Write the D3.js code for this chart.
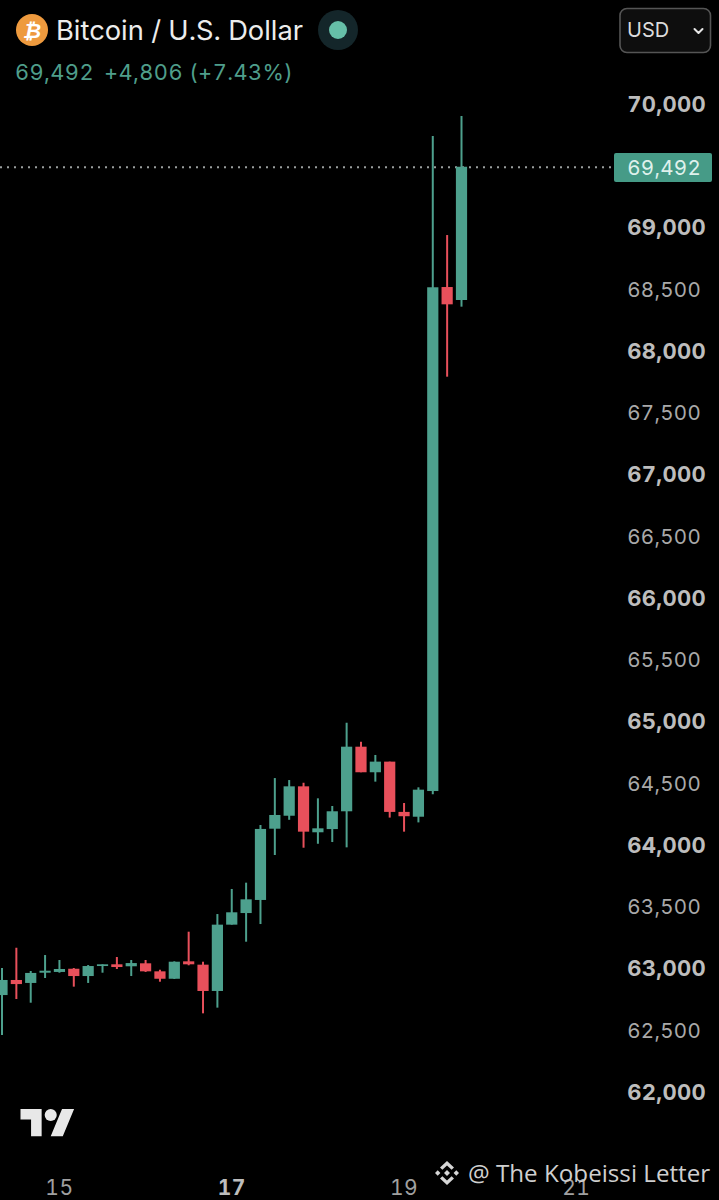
<!DOCTYPE html>
<html>
<head>
<meta charset="utf-8">
<script src="https://cdn.jsdelivr.net/npm/d3@7"></script>
<style>
html,body{margin:0;padding:0;background:#000;overflow:hidden}
svg{display:block}
text{font-family:Inter,Roboto,sans-serif;font-variant-numeric:tabular-nums}
</style>
</head>
<body>
<svg id="c" width="719" height="1200"></svg>
<script>
const opens  = [62785,62907,62883,62966,62972,62998,62939,63020,63034,63018,63042,62977,62917,63058,63031,62818,63355,63449,63555,64132,64237,64475,64103,64129,64273,64796,64589,64675,64268,64229,64437,68518,68413];
const closes = [62907,62874,62964,62982,62996,62939,63020,63034,63012,63044,62977,62917,63055,63034,62818,63355,63455,63560,64130,64243,64475,64108,64135,64273,64796,64589,64675,64268,64233,64448,68516,68378,69492];
const highs  = [63004,63168,62980,63109,63069,63004,63028,63034,63093,63069,63069,62990,63058,63298,63055,63441,63644,63695,64162,64542,64526,64504,64378,64316,64990,64836,64729,64675,64340,64467,69741,68939,69903];
const lows   = [62461,62753,62723,62923,62966,62853,62883,62966,62996,62939,62972,62893,62915,63026,62637,62683,63355,63217,63360,63919,64204,63978,64010,64024,63981,64589,64513,64222,64108,64183,64410,67792,68359];
const priceTicks = [70000,69000,68500,68000,67500,67000,66500,66000,65500,65000,64500,64000,63500,63000,62500,62000];
const dayTicks = [{i:4,label:"15"},{i:16,label:"17"},{i:28,label:"19"},{i:40,label:"21"}];
const lastPrice = 69492;
const titleText = "Bitcoin / U.S. Dollar";
const quoteText = ["69,492","+4,806 (+7.43%)"];
const watermark = "@ The Kobeissi Letter";

const UP="#4da08d", DOWN="#e8505b";
const svg=d3.select("#c");
svg.append("rect").attr("width",719).attr("height",1200).attr("fill","#000");

const y=d3.scaleLinear().domain([62000,70000]).range([1092,104]);
const x=d3.scaleLinear().domain([0,32]).range([2,461.5]);
const fmt=d3.format(",");

// last price dotted line
svg.append("line").attr("x1",0).attr("x2",612).attr("y1",y(lastPrice)+0.5).attr("y2",y(lastPrice)+0.5)
  .attr("stroke","#9a9f9e").attr("stroke-width",2).attr("stroke-dasharray","2 5");

// candles
const data=opens.map((o,i)=>({i,o,c:closes[i],h:highs[i],l:lows[i]}));
const g=svg.append("g");
g.selectAll("line").data(data).join("line")
  .attr("x1",d=>x(d.i)).attr("x2",d=>x(d.i))
  .attr("y1",d=>y(d.h)).attr("y2",d=>y(d.l))
  .attr("stroke",d=>d.c>=d.o?UP:DOWN).attr("stroke-width",2);
g.selectAll("rect").data(data).join("rect")
  .attr("x",d=>x(d.i)-5.6).attr("width",11.2)
  .attr("y",d=>y(Math.max(d.o,d.c)))
  .attr("height",d=>Math.max(1.6,Math.abs(y(d.o)-y(d.c))))
  .attr("fill",d=>d.c>=d.o?UP:DOWN);

// price axis labels
svg.append("g").selectAll("text").data(priceTicks).join("text")
  .attr("y",d=>y(d)).attr("dy","0.36em")
  .attr("x",d=>d%1000===0?706:701).attr("text-anchor","end")
  .attr("font-size",d=>d%1000===0?22:20.5)
  .attr("font-weight",d=>d%1000===0?700:400)
  .attr("letter-spacing",0.3)
  .attr("fill",d=>d%1000===0?"#bdbdbd":"#a9a9a9")
  .text(d=>fmt(d));

// last price badge
svg.append("rect").attr("x",614).attr("y",153).attr("width",98).attr("height",29).attr("rx",2).attr("fill","#469b87");
svg.append("text").attr("x",701).attr("y",167.5).attr("dy","0.36em").attr("text-anchor","end")
  .attr("font-size",20.5).attr("letter-spacing",0.3).attr("fill","#dff1ec").text(fmt(lastPrice));

// time labels
svg.append("g").selectAll("text").data(dayTicks).join("text")
  .attr("x",d=>x(d.i)).attr("y",1187).attr("dy","0.36em").attr("text-anchor","middle")
  .attr("font-size",21).attr("font-weight",d=>d.label==="17"?700:400).attr("letter-spacing",0.5)
  .attr("fill",d=>d.label==="17"?"#bdbdbd":"#a0a0a0").text(d=>d.label);

// header
svg.append("circle").attr("cx",32).attr("cy",30).attr("r",16).attr("fill","#ee9a3e");
svg.append("text").attr("x",32).attr("y",30.5).attr("dy","0.36em").attr("text-anchor","middle")
  .attr("font-size",21).attr("font-weight",700).attr("font-style","italic").attr("fill","#fff")
  .style("font-family","'DejaVu Sans',sans-serif").text("₿");
svg.append("text").attr("x",56).attr("y",30).attr("dy","0.36em").attr("font-size",27.3).attr("fill","#ececec").text(titleText);
svg.append("text").attr("x",15).attr("y",72).attr("dy","0.36em").attr("font-size",21.8).attr("letter-spacing",0.4).attr("fill","#4f9e8b").text(quoteText[0]);
svg.append("text").attr("x",104).attr("y",72).attr("dy","0.36em").attr("font-size",21.8).attr("letter-spacing",0.4).attr("fill","#4f9e8b").text(quoteText[1]);
svg.append("circle").attr("cx",338).attr("cy",30).attr("r",20).attr("fill","#14262a");
svg.append("circle").attr("cx",338).attr("cy",30).attr("r",9).attr("fill","#66bfa8");

// currency button
svg.append("rect").attr("x",620).attr("y",8.5).attr("width",90.5).attr("height",44).attr("rx",7)
  .attr("fill","#0e0e0e").attr("stroke","#555").attr("stroke-width",1.6);
svg.append("text").attr("x",627).attr("y",30).attr("dy","0.36em").attr("font-size",20).attr("fill","#dcdcdc").text("USD");
svg.append("path").attr("d","M694.5 29 L698.5 33 L702.5 29").attr("fill","none").attr("stroke","#e6e6e6").attr("stroke-width",2).attr("stroke-linecap","round").attr("stroke-linejoin","round");

// TradingView logo
const logo=svg.append("g").attr("transform","translate(20.5,1103) scale(1.51)").attr("fill","#e8e8e8");
logo.append("path").attr("d","M14 22H7V11H0V4h14v18zM28 22h-8l7.5-18h8L28 22z");
logo.append("circle").attr("cx",20).attr("cy",8).attr("r",4);

// watermark
const bn=svg.append("g").attr("transform","translate(447,1173)").attr("fill","#d6d6d6");
bn.append("path").attr("d","M0 -12 L7 -5.5 L4.6 -3.2 L0 -7.6 L-4.6 -3.2 L-7 -5.5 Z");
bn.append("path").attr("d","M0 12 L7 5.5 L4.6 3.2 L0 7.6 L-4.6 3.2 L-7 5.5 Z");
bn.append("path").attr("d","M0 -3 L3 0 L0 3 L-3 0 Z");
bn.append("path").attr("d","M-12 0 L-9.3 -2.7 L-6.6 0 L-9.3 2.7 Z");
bn.append("path").attr("d","M12 0 L9.3 -2.7 L6.6 0 L9.3 2.7 Z");
svg.append("text").attr("x",468).attr("y",1173).attr("dy","0.36em").attr("font-size",24.2)
  .attr("fill","#cfcfcf").style("font-family","'Open Sans',sans-serif").text(watermark);
</script>
</body>
</html>
